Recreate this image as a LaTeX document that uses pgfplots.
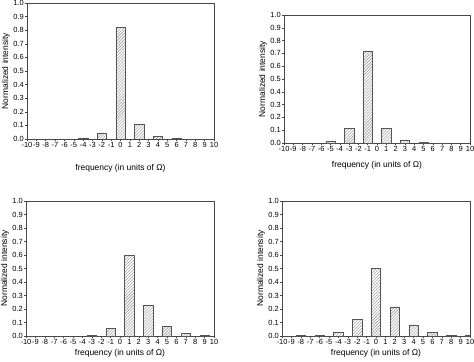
\documentclass[border=0pt]{standalone}
\usepackage{fontspec}
\setmainfont{Liberation Sans}
\usepackage{pgfplots}
\pgfplotsset{compat=1.18}
\usetikzlibrary{patterns}
\definecolor{framec}{HTML}{484848}
\definecolor{barc}{HTML}{555555}
\pgfplotsset{
  panel/.style={
    scale only axis,
    anchor=south west,
    xmin=-10, xmax=10, ymin=0, ymax=1,
    xtick={-10,...,10},
    ytick={0,0.1,...,1.0},
    tick align=outside,
    tick pos=left,
    major tick length=2pt,
    axis line style={framec, line width=0.6pt},
    every tick/.style={framec, line width=0.5pt},
    /pgf/number format/assume math mode=true,
    yticklabel style={font=\fontsize{7.5}{8}\selectfont, /pgf/number format/fixed, /pgf/number format/fixed zerofill, /pgf/number format/precision=1, inner sep=1pt},
    xticklabel style={font=\fontsize{7.5}{8}\selectfont, inner sep=1pt},
    xticklabels={-10,-9,-8,-7,-6,-5,-4,-3,-2,-1,0,1,2,3,4,5,6,7,8,9,10},
    label style={font=\fontsize{8.5}{10}\selectfont},
    xlabel={frequency (in units of Ω)},
    ylabel={Normalized intensity},
    xlabel style={yshift=-5pt},
    ylabel style={yshift=-1pt},
    ybar, bar width=1,
  },
  hbar/.style={draw=barc, line width=0.5pt, pattern=north east lines, pattern color=gray!90},
}
\begin{document}
\begin{tikzpicture}[x=1bp,y=1bp]
\path[use as bounding box] (0,0) rectangle (474,361);
\begin{axis}[panel, at={(27bp,222bp)}, width=187bp, height=136bp, xlabel style={yshift=-7pt}]
\addplot[hbar] coordinates {(-4,0.003) (-2,0.045) (0,0.82) (2,0.105) (4,0.02) (6,0.005) (8,0.001)};
\end{axis}
\begin{axis}[panel, at={(284bp,218bp)}, width=186bp, height=128bp]
\addplot[hbar] coordinates {(-5,0.015) (-3,0.115) (-1,0.72) (1,0.115) (3,0.025) (5,0.005) (7,0.001)};
\end{axis}
\begin{axis}[panel, at={(26bp,25bp)}, width=188bp, height=135bp, xlabel style={yshift=2.5pt, inner sep=1pt}]
\addplot[hbar] coordinates {(-3,0.004) (-1,0.055) (1,0.60) (3,0.23) (5,0.073) (7,0.02) (9,0.005)};
\end{axis}
\begin{axis}[panel, at={(282bp,25bp)}, width=188bp, height=135bp, xlabel style={yshift=2.5pt, inner sep=1pt}]
\addplot[hbar] coordinates {(-8,0.005) (-6,0.003) (-4,0.025) (-2,0.125) (0,0.50) (2,0.215) (4,0.082) (6,0.028) (8,0.007) (10,0.002)};
\end{axis}
\end{tikzpicture}
\end{document}
